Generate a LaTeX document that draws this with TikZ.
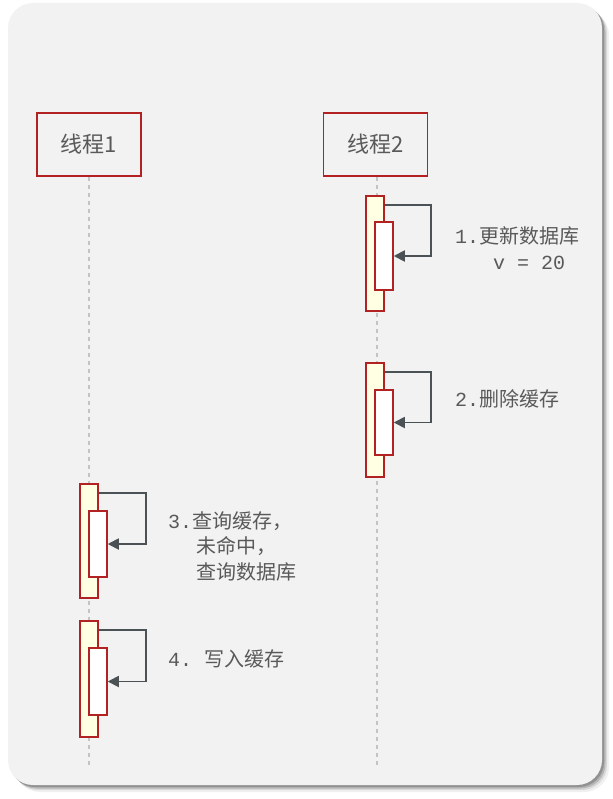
\documentclass[tikz,border=0pt]{standalone}
\usepackage{fontspec}
\setmainfont{Noto Sans CJK SC}
\setmonofont{Liberation Mono}
\usetikzlibrary{arrows.meta}

\definecolor{bggray}{HTML}{F2F2F2}
\definecolor{boxred}{HTML}{B22222}
\definecolor{baryellow}{HTML}{FFFFE3}
\definecolor{txtgray}{HTML}{595959}
\definecolor{arrowgray}{HTML}{4B5255}
\definecolor{linegray}{HTML}{C4C4C4}

\tikzset{
  thread/.style={draw=boxred, line width=1.6pt, fill=bggray, minimum width=104pt,
    minimum height=63pt, text=txtgray, font=\fontsize{22}{26}\selectfont},
  outerbar/.style={draw=boxred, line width=1.5pt, fill=baryellow, minimum width=18pt,
    minimum height=#1, inner sep=0pt},
  innerbar/.style={draw=boxred, line width=1.5pt, fill=white, minimum width=18pt,
    minimum height=#1, inner sep=0pt},
  lifeline/.style={linegray, line width=1.2pt, dash pattern=on 4pt off 4pt},
  selfcall/.style={arrowgray, line width=1.8pt, -{Triangle[length=11pt,width=11pt]}},
  note/.style={anchor=west, align=left, text=txtgray, inner sep=0pt,
    font=\fontsize{20}{25.5}\selectfont}
}

\begin{document}
\begin{tikzpicture}[x=1pt, y=-1pt]
    \useasboundingbox (0,0) rectangle (612,799);
    % panel with shadow
    \foreach \d/\o in {7/0.06, 5/0.10, 3.5/0.16, 2/0.2}
        \fill[black, opacity=\o, rounded corners=25pt] (8+\d,3+\d) rectangle (602+\d,785+\d);
    \fill[bggray, rounded corners=25pt] (8,3) rectangle (602,785);

    % threads
    \node[thread] (t1) at (89,144.5) {线程1};
    \node[thread] (t2) at (375.5,144.5) {线程2};
    \coordinate (e1) at (89,765);
    \coordinate (e2) at (377,765);
    \draw[lifeline] (t1.south -| e1) -- (e1);
    \draw[lifeline] (t2.south -| e2) -- (e2);

    % thread 2
    \node[outerbar=115pt] (b1o) at (375,253.5) {};
    \node[innerbar=68pt] (b1i) at (384,256) {};
    \draw[selfcall] ([yshift=-10pt]b1o.north east) -- ++(46,0) |- (b1i.east);
    \node[note] (n1) at (455,248) {{\ttfamily 1.}更新数据库\\\hspace*{38pt}{\ttfamily v = 20}};

    \node[outerbar=114pt] (b2o) at (375,420) {};
    \node[innerbar=65pt] (b2i) at (384,422.5) {};
    \draw[selfcall] ([yshift=-10pt]b2o.north east) -- ++(46,0) |- (b2i.east);
    \node[note] (n2) at (455,399) {{\ttfamily 2.}删除缓存};

    % thread 1
    \node[outerbar=114pt] (b3o) at (89,541) {};
    \node[innerbar=66pt] (b3i) at (98,544) {};
    \draw[selfcall] ([yshift=-10pt]b3o.north east) -- ++(47,0) |- (b3i.east);
    \node[note] (n3) at (168,546) {{\ttfamily 3.}查询缓存，\\\hspace*{28pt}未命中，\\\hspace*{28pt}查询数据库};

    \node[outerbar=116pt] (b4o) at (89,679) {};
    \node[innerbar=67pt] (b4i) at (98,681.5) {};
    \draw[selfcall] ([yshift=-10pt]b4o.north east) -- ++(47,0) |- (b4i.east);
    \node[note] (n4) at (168,659) {{\ttfamily 4. }写入缓存};
\end{tikzpicture}
\end{document}
